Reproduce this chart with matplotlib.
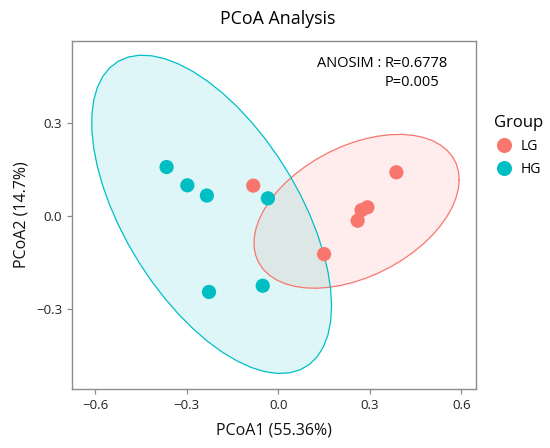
import numpy as np
import matplotlib
matplotlib.use("Agg")
import matplotlib.pyplot as plt
from matplotlib.lines import Line2D

plt.rcParams['font.family'] = ['Open Sans', 'DejaVu Sans']

groups = ["LG", "HG"]
colors = {"LG": "#F8766D", "HG": "#00BFC4"}

lg_x = [-0.082, 0.387, 0.292, 0.273, 0.260, 0.150]
lg_y = [0.097, 0.140, 0.027, 0.018, -0.016, -0.124]
hg_x = [-0.366, -0.298, -0.234, -0.034, -0.227, -0.051]
hg_y = [0.157, 0.098, 0.065, 0.056, -0.246, -0.226]

xticks = [-0.6, -0.3, 0.0, 0.3, 0.6]
yticks = [-0.3, 0.0, 0.3]


def cov_trob(x, nu=5, maxit=25, tol=0.01):
    # robust t covariance, same idea as MASS::cov.trob
    n, p = x.shape
    wt = np.ones(n)
    loc = x.mean(axis=0)
    w = np.sqrt(wt)
    for it in range(maxit):
        w0 = w
        X = x - loc
        _, d, vt = np.linalg.svd(np.sqrt(w / w.sum())[:, None] * X, full_matrices=False)
        wX = X @ vt.T @ np.diag(1 / d)
        Q = (wX ** 2).sum(axis=1)
        w = wt * (nu + p) / (nu + Q)
        loc = (w[:, None] * x).sum(axis=0) / w.sum()
        if np.all(np.abs(w - w0) < tol):
            break
    sX = np.sqrt(w)[:, None] * X
    return loc, sX.T @ sX / wt.sum()


def ellipse_pts(xs, ys, level=0.95, segments=51):
    data = np.column_stack([xs, ys])
    center, shape = cov_trob(data)
    dfd = len(xs) - 1
    fq = dfd / 2 * ((1 - level) ** (-2 / dfd) - 1)  # qf(level, 2, dfd)
    radius = np.sqrt(2 * fq)
    ang = np.linspace(0, 2 * np.pi, segments + 1)
    circ = np.column_stack([np.cos(ang), np.sin(ang)])
    L = np.linalg.cholesky(shape)
    return center + radius * circ @ L.T


fig = plt.figure(figsize=(5.5, 4.48), dpi=100)
ax = fig.add_axes([0.1309, 0.1317, 0.7346, 0.7768])

series = {"LG": (lg_x, lg_y), "HG": (hg_x, hg_y)}
for g in groups:
    xs, ys = series[g]
    e = ellipse_pts(xs, ys)
    ax.fill(e[:, 0], e[:, 1], color=colors[g], alpha=0.13, lw=0)
    ax.plot(e[:, 0], e[:, 1], color=colors[g], lw=0.9)
for g in groups:
    xs, ys = series[g]
    ax.scatter(xs, ys, s=105, color=colors[g], edgecolors='none', zorder=3)

ax.set_xlim(-0.676, 0.648)
ax.set_ylim(-0.559, 0.5635)
ax.set_xticks(xticks)
ax.set_yticks(yticks)
ax.set_xticklabels(["\u22120.6", "\u22120.3", "0.0", "0.3", "0.6"])
ax.set_yticklabels(["\u22120.3", "0.0", "0.3"])
for s in ax.spines.values():
    s.set_color("#8c8c8c")
    s.set_linewidth(1.0)
ax.tick_params(colors="#8c8c8c", labelcolor="#222222", labelsize=9.5, length=3.5, width=0.9)

ax.set_xlabel("PCoA1 (55.36%)", fontsize=11.5, color="#111111", labelpad=8)
ax.set_ylabel("PCoA2 (14.7%)", fontsize=11.5, color="#111111", labelpad=5)
fig.text(0.505, 0.958, "PCoA Analysis", ha='center', va='center', fontsize=12.8)

ax.text(0.775, 0.957, "ANOSIM : ", transform=ax.transAxes, ha='right', va='top', fontsize=10.5)
ax.text(0.775, 0.957, "R=0.6778\nP=0.005", transform=ax.transAxes, ha='left', va='top',
        fontsize=10.5, linespacing=1.4)

handles = [Line2D([], [], marker='o', ls='none', markersize=10.8, color=colors[g],
                  markeredgecolor='none') for g in groups]
leg = fig.legend(handles, groups, title="Group", loc='upper left',
                 bbox_to_anchor=(0.888, 0.755), frameon=False, fontsize=10,
                 title_fontsize=12, handletextpad=0.5, labelspacing=0.55,
                 handlelength=1.4, borderaxespad=0)
leg._legend_box.align = "left"

fig.savefig("out.png", dpi=100)
